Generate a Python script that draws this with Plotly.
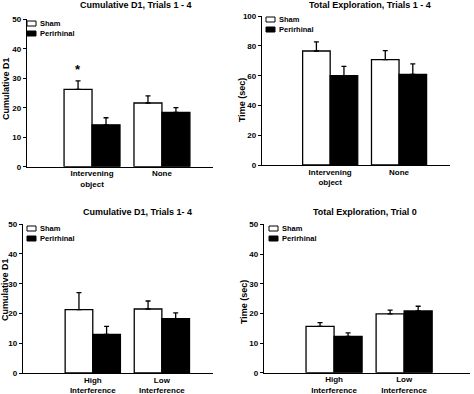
import plotly.graph_objects as go

W, H = 474, 394

# ---- data ----
cats_top = ["Intervening<br>object", "None"]
cats_bot = ["High<br>Interference", "Low<br>Interference"]

d1_top_sham = [26.2, 21.6]
d1_top_sham_sem = [2.9, 2.4]
d1_top_peri = [14.2, 18.4]
d1_top_peri_sem = [2.4, 1.6]

ex_top_sham = [76.6, 70.8]
ex_top_sham_sem = [6.1, 6.1]
ex_top_peri = [60.0, 60.9]
ex_top_peri_sem = [6.3, 7.0]

d1_bot_sham = [21.3, 21.5]
d1_bot_sham_sem = [5.7, 2.7]
d1_bot_peri = [13.0, 18.3]
d1_bot_peri_sem = [2.7, 1.9]

ex_bot_sham = [15.6, 19.8]
ex_bot_sham_sem = [1.3, 1.3]
ex_bot_peri = [12.2, 20.8]
ex_bot_peri_sem = [1.2, 1.6]

titles = ["Cumulative D1, Trials 1 - 4", "Total Exploration, Trials 1 - 4",
          "Cumulative D1, Trials 1- 4", "Total Exploration, Trial 0"]
ytitles = ["Cumulative D1", "Time (sec)", "Cumulative D1", "Time (sec)"]
groups = ["Sham", "Perirhinal"]

FONT = "Liberation Sans, Arial, sans-serif"

def px(x):
    return x / W

def py(y):
    return 1 - y / H

panels = [
    dict(cats=cats_top, sham=d1_top_sham, ssem=d1_top_sham_sem, peri=d1_top_peri, psem=d1_top_peri_sem,
         xdom=[27, 213], ydom=[166.7, 19.2], xr=[-0.93, 1.73], ymax=50, dt=10,
         title=(136, 5), ytitle=(6, 89), leg=(27, 21)),
    dict(cats=cats_top, sham=ex_top_sham, ssem=ex_top_sham_sem, peri=ex_top_peri, psem=ex_top_peri_sem,
         xdom=[262, 450], ydom=[165, 16.2], xr=[-0.99, 1.74], ymax=100, dt=20,
         title=(370, 5), ytitle=(242, 100), leg=(266, 17)),
    dict(cats=cats_bot, sham=d1_bot_sham, ssem=d1_bot_sham_sem, peri=d1_bot_peri, psem=d1_bot_peri_sem,
         xdom=[23, 213], ydom=[373, 224.2], xr=[-1.01, 1.74], ymax=50, dt=10,
         title=(137, 212), ytitle=(5, 290), leg=(27, 226)),
    dict(cats=cats_bot, sham=ex_bot_sham, ssem=ex_bot_sham_sem, peri=ex_bot_peri, psem=ex_bot_peri_sem,
         xdom=[264, 470], ydom=[372.7, 224.4], xr=[-1.0, 1.94], ymax=50, dt=10,
         title=(365, 212), ytitle=(244, 302), leg=(269, 226)),
]

fig = go.Figure()
annotations = []
shapes = []

for i, p in enumerate(panels):
    n = "" if i == 0 else str(i + 1)
    xa, ya = "x" + n, "y" + n
    xs = list(range(len(p["cats"])))
    for name, vals, sem, color in [(groups[0], p["sham"], p["ssem"], "white"),
                                   (groups[1], p["peri"], p["psem"], "black")]:
        fig.add_trace(go.Bar(
            x=xs, y=vals, name=name, showlegend=False, hoverinfo="skip",
            marker=dict(color=color, line=dict(color="black", width=1.3)),
            error_y=dict(type="data", array=sem, arrayminus=[0] * len(sem), symmetric=False,
                         color="black", thickness=1.3, width=2.5),
            xaxis=xa, yaxis=ya, offsetgroup=name,
        ))
    axis_common = dict(showline=True, linecolor="black", linewidth=1.3, showgrid=False, zeroline=False,
                       automargin=False, fixedrange=True,
                       tickfont=dict(family=FONT, size=8, color="black", weight="bold"))
    fig.layout["xaxis" + n] = dict(
        domain=[px(p["xdom"][0]), px(p["xdom"][1])], anchor=ya, range=p["xr"],
        tickvals=xs, ticktext=p["cats"], ticks="", ticklabelstandoff=-1, **axis_common)
    fig.layout["yaxis" + n] = dict(
        domain=[py(p["ydom"][0]), py(p["ydom"][1])], anchor=xa, range=[0, p["ymax"]],
        dtick=p["dt"], ticks="outside", ticklen=3, tickwidth=1.3, tickcolor="black", **axis_common)
    tx, ty = p["title"]
    annotations.append(dict(text=titles[i], x=px(tx), y=py(ty), xref="paper", yref="paper",
                            showarrow=False, xanchor="center", yanchor="middle",
                            font=dict(family=FONT, size=9, color="black", weight="bold")))
    yx, yy = p["ytitle"]
    annotations.append(dict(text=ytitles[i], x=px(yx), y=py(yy), xref="paper", yref="paper",
                            showarrow=False, xanchor="center", yanchor="middle", textangle=-90,
                            font=dict(family=FONT, size=9, color="black", weight="bold")))
    lx, ly = p["leg"]
    for k, (name, color) in enumerate([(groups[0], "white"), (groups[1], "black")]):
        y0 = ly + k * 10
        shapes.append(dict(type="rect", xref="paper", yref="paper",
                           x0=px(lx), x1=px(lx + 9), y0=py(y0 + 5), y1=py(y0),
                           fillcolor=color, line=dict(color="black", width=1)))
        annotations.append(dict(text=name, x=px(lx + 11), y=py(y0 + 2.5), xref="paper", yref="paper",
                                showarrow=False, xanchor="left", yanchor="middle",
                                font=dict(family=FONT, size=7.5, color="black", weight="bold")))

# significance marker
annotations.append(dict(text="*", x=-0.2, y=32.8, xref="x", yref="y", showarrow=False,
                        xanchor="center", yanchor="middle",
                        font=dict(family=FONT, size=13, color="black", weight="bold")))

fig.update_layout(
    width=W, height=H, margin=dict(l=0, r=0, t=0, b=0),
    paper_bgcolor="white", plot_bgcolor="white",
    barmode="group", bargap=0.2, bargroupgap=0,
    annotations=annotations, shapes=shapes,
)

fig.write_html("out.html", config={"displayModeBar": False},
               post_script="document.body.style.margin='0';document.body.style.overflow='hidden';")
